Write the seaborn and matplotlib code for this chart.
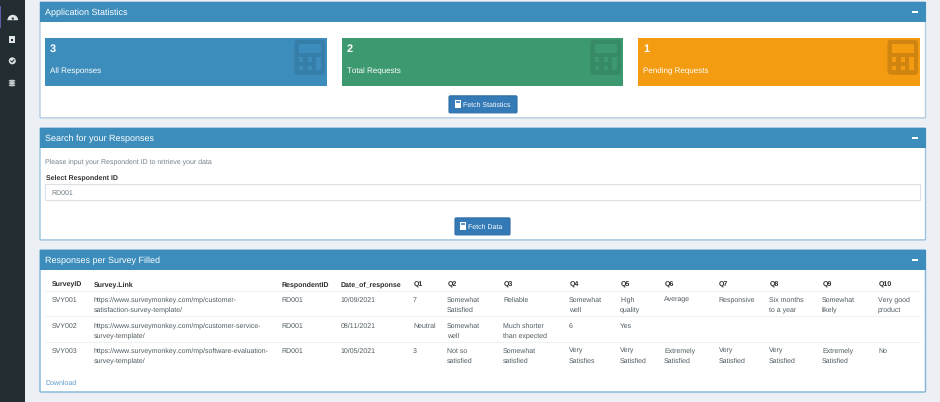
import matplotlib
matplotlib.use("Agg")
import matplotlib.pyplot as plt
from matplotlib.patches import Rectangle, FancyBboxPatch, Circle, Wedge, Ellipse
import seaborn as sns

sns.set_theme(style="white")
plt.rcParams["font.family"] = ["Liberation Sans", "DejaVu Sans"]
plt.rcParams["text.hinting"] = "no_hinting"
plt.rcParams["text.hinting_factor"] = 1

# card contents
card_values = [3, 2, 1]
card_labels = ["All Responses", "Total Requests", "Pending Requests"]
card_colors = sns.color_palette(["#3c8dbc", "#3d9970", "#f39c12"])
icon_colors = ["#357ea9", "#368a65", "#cf8510"]

panel_titles = ["Application Statistics", "Search for your Responses", "Responses per Survey Filled"]
panel_borders = ["#b5cde2", "#9cc3de", "#7fb5d8"]

# table contents
table_headers = ["SurveyID", "Survey.Link", "RespondentID", "Date_of_response", "Q1", "Q2", "Q3",
                 "Q4", "Q5", "Q6", "Q7", "Q8", "Q9", "Q10"]
row_svy001 = ["SVY001", "https://www.surveymonkey.com/mp/customer-\nsatisfaction-survey-template/", "RD001",
              "10/09/2021", "7", "Somewhat\nSatisfied", "Reliable", "Somewhat\nwell", "High\nquality",
              "Average", "Responsive", "Six months\nto a year", "Somewhat\nlikely", "Very good\nproduct"]
row_svy002 = ["SVY002", "https://www.surveymonkey.com/mp/customer-service-\nsurvey-template/", "RD001",
              "08/11/2021", "Neutral", "Somewhat\nwell", "Much shorter\nthan expected", "6", "Yes",
              "", "", "", "", ""]
row_svy003 = ["SVY003", "https://www.surveymonkey.com/mp/software-evaluation-\nsurvey-template/", "RD001",
              "10/05/2021", "3", "Not so\nsatisfied", "Somewhat\nsatisfied", "Very\nSatisfies", "Very\nSatisfied",
              "Extremely\nSatisfied", "Very\nSatisfied", "Very\nSatisfied", "Extremely\nSatisfied", "No"]

# layout in screen pixels
W, H = 940, 402
HEADER_BLUE = "#3c8dbc"
column_x = [51.5, 93.5, 281.5, 340.5, 413, 447, 503, 569, 620, 664, 718.5, 769, 822, 878]
panel_y = [(2, 118), (128, 240), (250, 392)]
card_x = [(45, 327), (342, 623), (638, 920)]
row_y = [299, 325, 350]
row_lines = [291, 316, 342]

fig = plt.figure(figsize=(W / 100, (H + 0.2) / 100), dpi=100, facecolor="#ecf0f5")
ax = fig.add_axes([0, 0, 1, 1])
ax.set_xlim(0, W)
ax.set_ylim(H, 0)
ax.axis("off")


def box(x0, y0, x1, y1, color, z=1, **kw):
    ax.add_patch(Rectangle((x0, y0), x1 - x0, y1 - y0, facecolor=color, edgecolor="none", zorder=z, **kw))


def rounded(x0, y0, x1, y1, face, edge="none", r=1.5, z=2, lw=0.8):
    ax.add_patch(FancyBboxPatch((x0 + r, y0 + r), x1 - x0 - 2 * r, y1 - y0 - 2 * r,
                                boxstyle=f"round,pad={r},rounding_size={r}",
                                facecolor=face, edgecolor=edge, linewidth=lw, zorder=z))


def label(x, y, s, size=5.1, color="#4f5a60", weight="normal"):
    # baseline so that a row lines up whatever letters it has
    ax.text(x, y + size * 0.5, s, fontsize=size, color=color, fontweight=weight,
            ha="left", va="baseline", zorder=6)


def calculator(x0, y0, color, bg):
    rounded(x0, y0, x0 + 30.5, y0 + 35, color, r=3.5, z=3)
    box(x0 + 4.2, y0 + 4.3, x0 + 26, y0 + 13.3, bg, z=4)
    for bx in (x0 + 4.2, x0 + 13):
        for by in (y0 + 17.3, y0 + 25.8):
            box(bx, by, bx + 4.5, by + 4.5, bg, z=4)
    box(x0 + 21.7, y0 + 17.3, x0 + 26, y0 + 30.3, bg, z=4)


def small_calc(x, y):
    box(x, y, x + 6, y + 7.5, "white", z=5)
    box(x + 1, y + 1, x + 5, y + 3, "#5b93c4", z=6)


# sidebar
box(0, 0, 24.5, H, "#222d32")
box(0, 6, 1.3, 28, "#605ca8", z=2)
ICON = "#dfe4e6"
ax.add_patch(Wedge((12.8, 20.4), 5.4, 180, 360, facecolor=ICON, edgecolor="none", zorder=3))
ax.add_patch(Circle((12.8, 18.8), 1.1, facecolor="#222d32", edgecolor="none", zorder=4))
box(9.2, 35.7, 14.6, 42.8, ICON, z=3)
box(10.8, 39.5, 13, 41, "#222d32", z=4)
ax.add_patch(Circle((12.3, 61), 3.5, facecolor=ICON, edgecolor="none", zorder=3))
ax.plot([10.7, 12, 14.1], [61, 62.3, 59.8], color="#222d32", lw=0.8, zorder=4)
for ey in (81, 83.2, 85.4):
    ax.add_patch(Ellipse((12, ey), 6.6, 2.2, facecolor="#c5cacc", edgecolor="none", zorder=3))

# panels
for title, border, (y0, y1) in zip(panel_titles, panel_borders, panel_y):
    rounded(40, y0, 925.5, y1, "white", edge=border, r=1, lw=1.0)
    box(40, y0, 925.5, y0 + 20, HEADER_BLUE, z=3)
    label(45, y0 + 9.7, title, size=6.6, color="white")
    box(912, y0 + 9.2, 917.5, y0 + 10.7, "white", z=5)

# value cards
for val, text, color, icon, (x0, x1) in zip(card_values, card_labels, card_colors, icon_colors, card_x):
    box(x0, 38, x1, 86, color, z=3)
    label(x0 + 5, 48, str(val), size=7.6, color="white", weight="bold")
    label(x0 + 5, 71, text, size=5.45, color="white")
    calculator(x1 - 32.5, 40, icon, color)

# buttons
rounded(449, 96, 517, 113, "#337ab7", edge="#2e6da4", r=1.2)
small_calc(455, 100.5)
label(463, 104.5, "Fetch Statistics", size=5.1, color="white")
rounded(455, 218, 510, 235, "#337ab7", edge="#2e6da4", r=1.2)
small_calc(460, 222.5)
label(468, 226.5, "Fetch Data", size=5.1, color="white")

# search form
label(45, 161, "Please input your Respondent ID to retrieve your data", size=5.0, color="#75818a")
label(45.5, 176.5, "Select Respondent ID", size=5.0, color="#333333", weight="bold")
ax.add_patch(Rectangle((45, 184), 875, 16, facecolor="white", edgecolor="#dde1e5", linewidth=0.8, zorder=3))
label(51.5, 192, "RD001", size=5.1, color="#6f7a80")

# table
for x, head in zip(column_x, table_headers):
    label(x + 0.5, 283.5, head, size=5.1, color="#2b2b2b", weight="bold")
for y in row_lines:
    ax.plot([45, 920], [y, y], color="#eef0f2", lw=0.8, zorder=4)
for y, row in zip(row_y, [row_svy001, row_svy002, row_svy003]):
    for x, cell in zip(column_x, row):
        for i, part in enumerate(cell.split("\n")):
            label(x, y + i * 10, part, size=5.1)

label(45, 382, "Download", size=5.1, color="#5a9ac8")

fig.savefig("out.png", dpi=100, facecolor=fig.get_facecolor())
